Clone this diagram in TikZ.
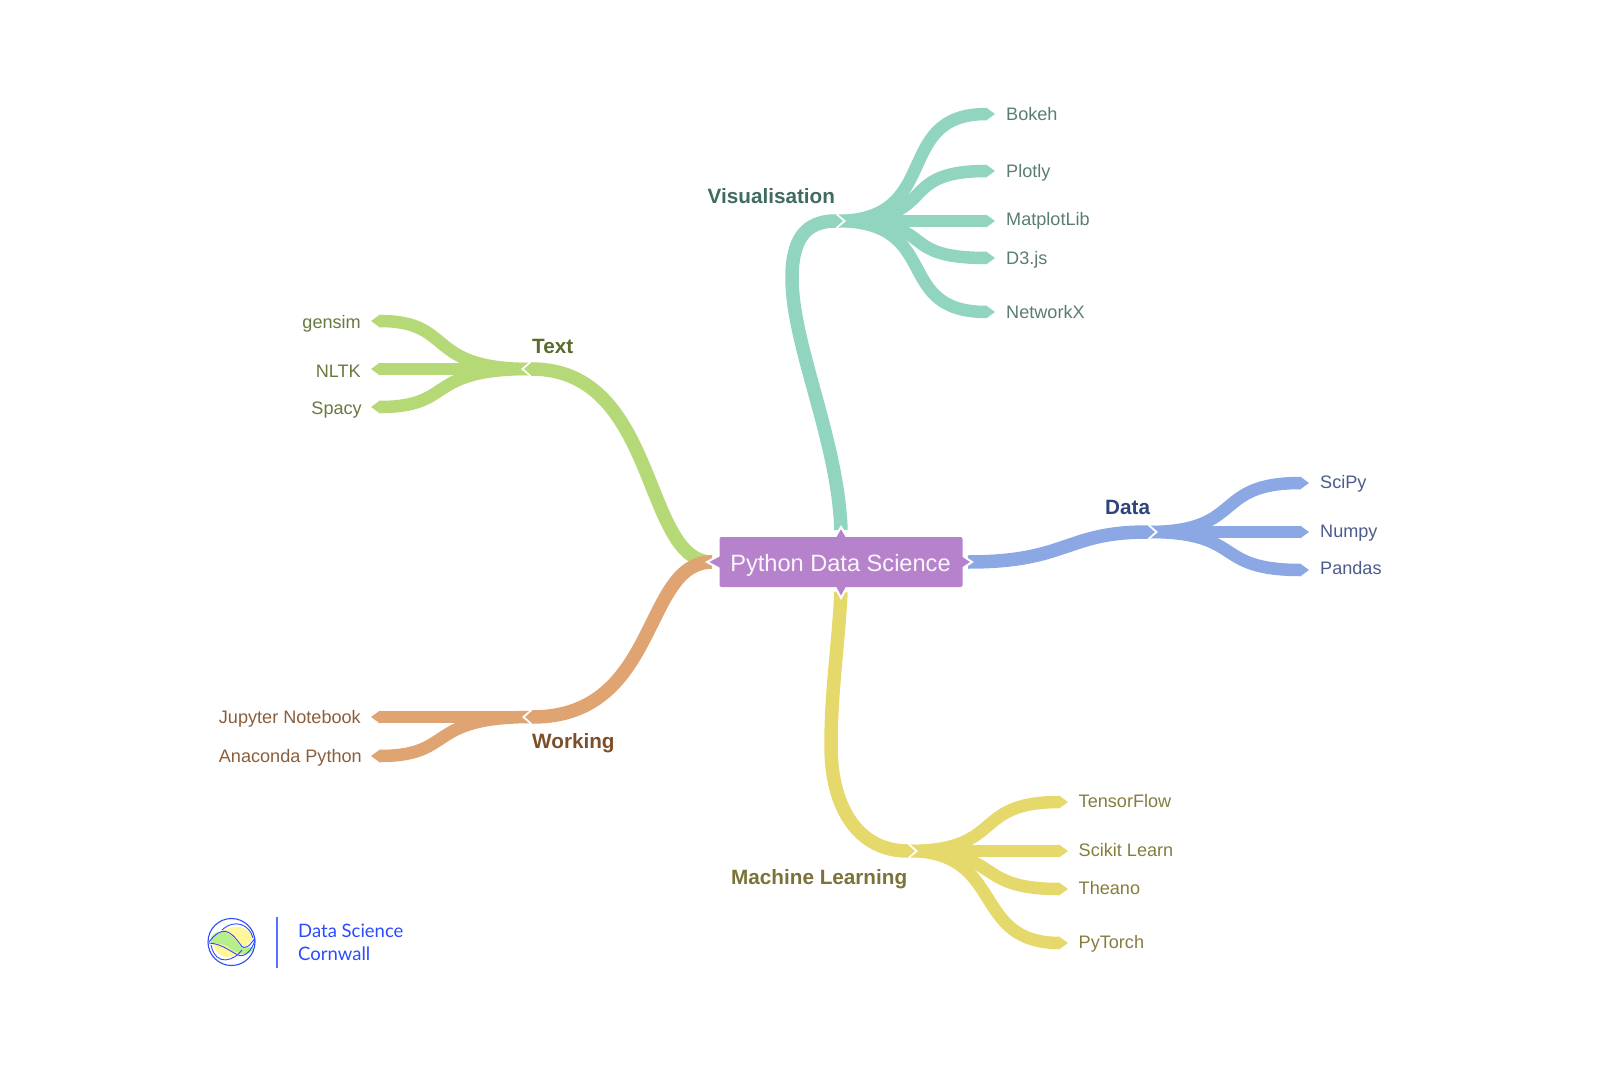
\documentclass[tikz,border=0pt]{standalone}
\usepackage{fontspec}
\setmainfont{Liberation Sans}
\newfontfamily\logofont{Lato}
\usetikzlibrary{arrows.meta}
\definecolor{cbox}{HTML}{B782CC}
\definecolor{cteal}{HTML}{91D5C1}
\definecolor{cblue}{HTML}{8BA8E4}
\definecolor{cyel}{HTML}{E6D96C}
\definecolor{cora}{HTML}{DFA472}
\definecolor{cgre}{HTML}{B5D976}
\definecolor{hteal}{HTML}{406B60}
\definecolor{lteal}{HTML}{5A7D73}
\definecolor{hblue}{HTML}{2F4579}
\definecolor{lblue}{HTML}{4A5C8C}
\definecolor{hyel}{HTML}{7A7238}
\definecolor{lyel}{HTML}{857D3E}
\definecolor{hora}{HTML}{7B4F2A}
\definecolor{lora}{HTML}{8B5E3B}
\definecolor{hgre}{HTML}{5A6B2E}
\definecolor{lgre}{HTML}{66793F}
\definecolor{clogo}{HTML}{2B4BFF}
\definecolor{logoy}{HTML}{FFF79A}
\definecolor{logog}{HTML}{B6EE8C}
\tikzset{
  main/.style={line width=13.5pt,-{Triangle[length=8pt,width=13.5pt]}},
  sub/.style={line width=12.5pt,-{Triangle[length=9pt,width=12.5pt]}},
  leaf/.style={inner sep=0pt,font=\fontsize{18.1}{20}\selectfont},
  head/.style={inner sep=0pt,font=\bfseries\fontsize{20.7}{23}\selectfont},
  boxtip/.style={fill=cbox,draw=white,line width=2pt,line join=miter},
  logotext/.style={inner sep=0pt,text=clogo,anchor=west,font=\logofont\fontsize{18.5}{20}\selectfont}
}
% white notch around a branch tip: #1 = named junction, #2 = direction angle
\newcommand{\notch}[2]{\fill[white,shift={(#1)},rotate=#2] (3,0) -- (-11,11.8) -- (-11,-11.8) -- cycle;}
\begin{document}
\begin{tikzpicture}[x=1pt,y=-1pt]
\useasboundingbox (0,0) rectangle (1600,1067);
% junctions
\coordinate (jvis) at (843,221);
\coordinate (jtxt) at (524,369);
\coordinate (jwrk) at (525,717);
\coordinate (jdat) at (1155,532);
\coordinate (jml) at (915,851);
\coordinate (rt) at (841,530);
\coordinate (rb) at (841,592);
\coordinate (rl) at (712,562);
\coordinate (rr) at (968,562);
% sub branch tips
\coordinate (t1) at (995,114);
\coordinate (t2) at (995,171);
\coordinate (t3) at (995,221);
\coordinate (t4) at (995,258);
\coordinate (t5) at (995,312);
\coordinate (g1) at (371,321);
\coordinate (g2) at (371,369);
\coordinate (g3) at (371,407);
\coordinate (o1) at (371,717);
\coordinate (o2) at (371,756);
\coordinate (b1) at (1309,483);
\coordinate (b2) at (1309,532);
\coordinate (b3) at (1309,570);
\coordinate (y1) at (1068,802);
\coordinate (y2) at (1068,851);
\coordinate (y3) at (1068,889);
\coordinate (y4) at (1068,943);
\coordinate (svis) at (836,221);
\coordinate (stxt) at (531,369);
\coordinate (swrk) at (532,717);
\coordinate (sdat) at (1148,532);
\coordinate (sml) at (908,851);
% sub branches
\draw[sub,cteal] (svis) .. controls +(108,0) and +(-104,0) .. (t1);
\draw[sub,cteal] (svis) .. controls +(108,0) and +(-104,0) .. (t2);
\draw[sub,cteal] (svis) -- (t3);
\draw[sub,cteal] (svis) .. controls +(108,0) and +(-104,0) .. (t4);
\draw[sub,cteal] (svis) .. controls +(108,0) and +(-104,0) .. (t5);
\draw[sub,cgre] (stxt) .. controls +(-108,0) and +(85,0) .. (g1);
\draw[sub,cgre] (stxt) -- (g2);
\draw[sub,cgre] (stxt) .. controls +(-108,0) and +(85,0) .. (g3);
\draw[sub,cora] (swrk) -- (o1);
\draw[sub,cora] (swrk) .. controls +(-108,0) and +(85,0) .. (o2);
\draw[sub,cblue] (sdat) .. controls +(98,0) and +(-98,0) .. (b1);
\draw[sub,cblue] (sdat) -- (b2);
\draw[sub,cblue] (sdat) .. controls +(98,0) and +(-98,0) .. (b3);
\draw[sub,cyel] (sml) .. controls +(98,0) and +(-98,0) .. (y1);
\draw[sub,cyel] (sml) -- (y2);
\draw[sub,cyel] (sml) .. controls +(98,0) and +(-98,0) .. (y3);
\draw[sub,cyel] (sml) .. controls +(98,0) and +(-98,0) .. (y4);
% notches
\notch{jvis}{0}
\notch{jtxt}{180}
\notch{jwrk}{180}
\notch{jdat}{0}
\notch{jml}{0}
% main branches
\draw[main,cteal] (rt) .. controls (838,440) and (792,345) .. (792,278) .. controls (792,240) and (805,221) .. (jvis);
\draw[main,cgre] (rl) .. controls +(-70,0) and +(135,0) .. (jtxt);
\draw[main,cora] (rl) .. controls +(-70,0) and +(135,0) .. (jwrk);
\draw[main,cblue] (rr) .. controls +(100,0) and +(-90,0) .. (jdat);
\draw[main,cyel] (rb) .. controls (838,650) and (831,690) .. (831,746) .. controls (831,810) and (860,851) .. (jml);
% root tips
\filldraw[boxtip] (833.5,540) -- (841,527) -- (848.5,540) -- cycle;
\filldraw[boxtip] (833.5,584) -- (841,598) -- (848.5,584) -- cycle;
\filldraw[boxtip] (722,554) -- (707,562) -- (722,570) -- cycle;
\filldraw[boxtip] (960,554) -- (972,562) -- (960,570) -- cycle;
\node[inner sep=0pt,minimum width=243pt,minimum height=50pt,rounded corners=2pt,fill=cbox] (rootbox) at (841,562) {};
\node[inner sep=0pt,text=white!93!cbox,font=\fontsize{23.6}{26}\selectfont] (roottext) at (840.5,565) {Python Data Science};
% heads
\node[head,anchor=west,text=hteal] (nvis) at (707.5,196) {Visualisation};
\node[head,anchor=west,text=hgre] (ntxt) at (532,346) {Text};
\node[head,anchor=west,text=hora] (nwrk) at (532,743.5) {Working};
\node[head,anchor=west,text=hblue] (ndat) at (1105,507) {Data};
\node[head,anchor=west,text=hyel] (nml) at (731,879) {Machine Learning};
% leaves
\node[leaf,anchor=west,text=lteal] (l1) at (1006,114) {Bokeh};
\node[leaf,anchor=west,text=lteal] (l2) at (1006,172.5) {Plotly};
\node[leaf,anchor=west,text=lteal] (l3) at (1006,221) {MatplotLib};
\node[leaf,anchor=west,text=lteal] (l4) at (1006,259.5) {D3.js};
\node[leaf,anchor=west,text=lteal] (l5) at (1006,312) {NetworkX};
\node[leaf,anchor=east,text=lgre] (l6) at (361,324) {gensim};
\node[leaf,anchor=east,text=lgre] (l7) at (361,371) {NLTK};
\node[leaf,anchor=east,text=lgre] (l8) at (362,410) {Spacy};
\node[leaf,anchor=east,text=lora] (l9) at (361,719) {Jupyter Notebook};
\node[leaf,anchor=east,text=lora] (l10) at (362,758) {Anaconda Python};
\node[leaf,anchor=west,text=lblue] (l11) at (1320,484) {SciPy};
\node[leaf,anchor=west,text=lblue] (l12) at (1320,533) {Numpy};
\node[leaf,anchor=west,text=lblue] (l13) at (1320,568.5) {Pandas};
\node[leaf,anchor=west,text=lyel] (l14) at (1078.5,801) {TensorFlow};
\node[leaf,anchor=west,text=lyel] (l15) at (1078.5,850.5) {Scikit Learn};
\node[leaf,anchor=west,text=lyel] (l16) at (1078.5,888) {Theano};
\node[leaf,anchor=west,text=lyel] (l17) at (1078.5,943.5) {PyTorch};
% logo
\fill[logoy] (212,943) .. controls (222,925) and (245,920) .. (253,938) .. controls (240,955) and (222,968) .. (212,943) -- cycle;
\fill[logog] (211,937) .. controls (222,925) and (232,935) .. (240,946) .. controls (245,950) and (250,945) .. (254,948) .. controls (250,957) and (240,955) .. (232,950) .. controls (225,943) and (220,944) .. (211,943) -- cycle;
\draw[clogo,line width=1.1pt] (231.5,942) circle[radius=23.5];
\draw[clogo,line width=0.9pt] (209,942) .. controls (222,925) and (230,930) .. (240,944) .. controls (245,952) and (250,945) .. (255,938);
\draw[clogo,line width=0.9pt] (209,943) .. controls (222,944) and (228,950) .. (238,955) .. controls (245,958) and (252,950) .. (255,940);
\draw[clogo,line width=0.9pt] (211,945) .. controls (216,968) and (235,960) .. (242,950);
\draw[clogo,line width=0.9pt] (222,930) .. controls (235,918) and (250,925) .. (253,938);
\draw[clogo,line width=1.1pt,opacity=.8] (277,917) -- (277,968);
\node[logotext] (lg1) at (298,931) {Data Science};
\node[logotext] (lg2) at (298,954) {Cornwall};
\end{tikzpicture}
\end{document}
